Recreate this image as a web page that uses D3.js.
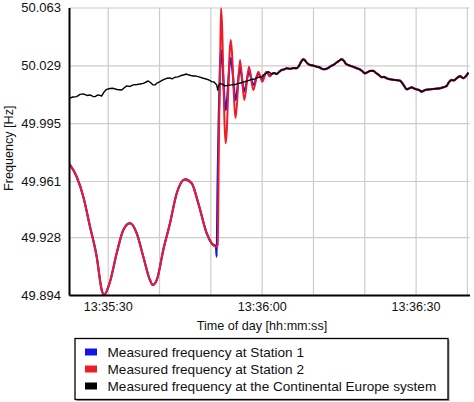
<!DOCTYPE html>
<html>
<head>
<meta charset="utf-8">
<script src="https://cdn.jsdelivr.net/npm/d3@7"></script>
<style>
  html, body { margin: 0; padding: 0; background: #fff; }
  svg { display: block; font-family: "Liberation Sans", Arial, sans-serif; }
</style>
</head>
<body>
<div id="chart"></div>
<script>
// seconds after 13:35:00, frequency in Hz
const stationsPre = [
  [22.46, 49.9714], [23.96, 49.9635], [25.25, 49.9518], [26.55, 49.9342], [27.86, 49.9165],
  [28.83, 49.8970], [29.28, 49.8940], [30.45, 49.9018], [31.75, 49.9185], [33.04, 49.9322],
  [34.35, 49.9362], [35.65, 49.9303], [36.94, 49.9165], [38.24, 49.9028], [38.77, 49.8999],
  [39.67, 49.9038], [40.83, 49.9205], [42.14, 49.9362], [43.45, 49.9538], [45.06, 49.9620],
  [46.37, 49.9597], [47.66, 49.9479], [49.29, 49.9303], [50.27, 49.9244], [51.10, 49.9224]
]
const station1Event = [
  [51.24, 49.9165], [51.40, 49.9550], [51.60, 49.9930], [51.88, 50.0280], [52.08, 50.0380],
  [52.99, 50.0028], [53.97, 50.0333], [54.94, 50.0086], [55.78, 50.0274], [56.62, 50.0135],
  [57.53, 50.0253], [58.37, 50.0175], [59.35, 50.0239], [60.13, 50.0210], [60.94, 50.0251],
  [61.63, 50.0226]
]
const station2Event = [
  [51.44, 49.9234], [51.69, 49.9892], [51.95, 50.0380], [52.08, 50.0625],
  [52.99, 49.9832], [53.97, 50.0439], [54.94, 49.9981], [55.78, 50.0321], [56.62, 50.0086],
  [57.53, 50.0282], [58.37, 50.0145], [59.35, 50.0253], [60.13, 50.0194], [60.94, 50.0251],
  [61.63, 50.0226]
]
const systemPre = [
  [22.46, 50.0096], [23.24, 50.0104], [23.96, 50.0106], [24.60, 50.0119], [25.25, 50.0122],
  [25.97, 50.0113], [26.55, 50.0116], [27.14, 50.0107], [27.53, 50.0106], [28.11, 50.0116],
  [28.83, 50.0110], [29.28, 50.0133], [29.81, 50.0149], [30.45, 50.0154], [31.09, 50.0155],
  [31.81, 50.0148], [32.73, 50.0145], [33.18, 50.0157], [33.70, 50.0169], [34.35, 50.0166],
  [34.99, 50.0175], [35.71, 50.0177], [36.29, 50.0180], [36.94, 50.0184], [37.46, 50.0192],
  [37.91, 50.0198], [38.44, 50.0186], [38.83, 50.0175], [39.22, 50.0175], [39.61, 50.0186],
  [40.19, 50.0194], [40.78, 50.0204], [41.50, 50.0214], [42.14, 50.0216], [42.53, 50.0210],
  [43.11, 50.0220], [43.70, 50.0222], [44.28, 50.0230], [44.73, 50.0233], [45.39, 50.0239],
  [45.84, 50.0233], [46.23, 50.0230], [46.68, 50.0227], [47.21, 50.0227], [47.79, 50.0222],
  [48.63, 50.0214], [49.16, 50.0210], [49.74, 50.0204], [50.27, 50.0194], [50.71, 50.0192],
  [51.24, 50.0175], [51.44, 50.0145], [51.69, 50.0175], [51.89, 50.0184], [52.28, 50.0180],
  [52.86, 50.0169], [53.44, 50.0172], [54.16, 50.0175], [54.81, 50.0177], [55.45, 50.0184],
  [56.11, 50.0188], [56.75, 50.0194], [57.40, 50.0200], [58.06, 50.0208], [58.70, 50.0210],
  [59.34, 50.0220], [60.01, 50.0222], [60.32, 50.0233], [60.85, 50.0242], [61.30, 50.0253]
]
const commonTail = [
  [61.96, 50.0239], [62.41, 50.0245], [62.93, 50.0239], [63.38, 50.0251], [63.90, 50.0263],
  [64.35, 50.0266], [64.88, 50.0273], [65.52, 50.0269], [66.10, 50.0274], [66.83, 50.0273],
  [67.27, 50.0286], [67.66, 50.0310], [68.11, 50.0326], [68.44, 50.0319], [68.83, 50.0304],
  [69.42, 50.0292], [70.00, 50.0289], [70.72, 50.0282], [71.37, 50.0277], [71.76, 50.0269],
  [72.34, 50.0267], [72.93, 50.0274], [73.51, 50.0286], [73.96, 50.0292], [74.49, 50.0304],
  [75.07, 50.0316], [75.60, 50.0326], [76.04, 50.0316], [76.43, 50.0298], [76.88, 50.0292],
  [77.41, 50.0286], [77.99, 50.0280], [78.52, 50.0273], [78.97, 50.0269], [79.55, 50.0257],
  [80.14, 50.0243], [80.72, 50.0251], [81.11, 50.0257], [81.76, 50.0258], [82.28, 50.0245],
  [82.86, 50.0233], [83.39, 50.0220], [83.84, 50.0222], [84.42, 50.0213], [85.01, 50.0208],
  [85.98, 50.0204], [86.96, 50.0200], [87.54, 50.0180], [88.26, 50.0149], [88.71, 50.0154],
  [89.24, 50.0161], [89.69, 50.0154], [90.21, 50.0149], [90.66, 50.0145], [91.19, 50.0135],
  [91.83, 50.0145], [92.81, 50.0149], [93.78, 50.0152], [94.76, 50.0155], [95.40, 50.0161],
  [96.06, 50.0169], [96.51, 50.0192], [97.04, 50.0204], [97.49, 50.0201], [98.07, 50.0216],
  [98.66, 50.0227], [99.30, 50.0214], [99.83, 50.0227], [100.28, 50.0247]
]

const yTicks = [49.894, 49.928, 49.961, 49.995, 50.029, 50.063]
const xLabelSeconds = [30, 60, 90]
const xGridSeconds = [30, 40, 50, 60, 70, 80, 90, 100]
const xDomainSeconds = [22.46, 100.5]
const legendLabels = [
  "Measured frequency at Station 1",
  "Measured frequency at Station 2",
  "Measured frequency at the Continental Europe system"
]
const colors = ["#1414e6", "#ec1c28", "#000000"]

const W = 474, H = 402
const plotL = 69, plotR = 469.5, plotT = 7.5, plotB = 295

const base = new Date(2020, 0, 1, 13, 35, 0)
const toDate = s => new Date(base.getTime() + s * 1000)

const svg = d3.select("#chart").append("svg")
  .attr("width", W).attr("height", H)

const x = d3.scaleTime().domain(xDomainSeconds.map(toDate)).range([plotL, plotR])
const y = d3.scaleLinear().domain([yTicks[0], yTicks[yTicks.length - 1]]).range([plotB, plotT])

//grid
svg.append("g")
  .attr("transform", `translate(0,${plotB})`)
  .call(d3.axisBottom(x).tickValues(xGridSeconds.map(toDate)).tickSize(-(plotB - plotT)).tickFormat(""))
  .call(g => g.select(".domain").remove())
  .call(g => g.selectAll("line").attr("stroke", "#cccccc").attr("stroke-width", 1.2))

svg.append("g")
  .attr("transform", `translate(${plotL},0)`)
  .call(d3.axisLeft(y).tickValues(yTicks.slice(1)).tickSize(-(plotR - plotL)).tickFormat(""))
  .call(g => g.select(".domain").remove())
  .call(g => g.selectAll("line").attr("stroke", "#cccccc").attr("stroke-width", 1.2))

svg.append("clipPath").attr("id", "plot-clip")
  .append("rect").attr("x", plotL).attr("y", plotT - 1).attr("width", plotR - plotL).attr("height", plotB - plotT + 1)

const station1 = stationsPre.concat(station1Event, commonTail)
const station2 = stationsPre.concat(station2Event, commonTail)
const system = systemPre.concat(commonTail)

const smooth = d3.line().x(d => x(toDate(d[0]))).y(d => y(d[1])).curve(d3.curveMonotoneX)
const jagged = d3.line().x(d => x(toDate(d[0]))).y(d => y(d[1]))

const plot = svg.append("g").attr("clip-path", "url(#plot-clip)")

plot.append("path").datum(station1)
  .attr("fill", "none").attr("stroke", colors[0]).attr("stroke-width", 2.2)
  .attr("stroke-linejoin", "round").attr("d", smooth)
plot.append("path").datum(station2)
  .attr("fill", "none").attr("stroke", colors[1]).attr("stroke-width", 2)
  .attr("stroke-linejoin", "round").attr("d", smooth)
plot.append("path").datum(system)
  .attr("fill", "none").attr("stroke", colors[2]).attr("stroke-width", 1.4)
  .attr("stroke-linejoin", "round").attr("d", jagged)

//axes
svg.append("g")
  .attr("transform", `translate(0,${plotB})`)
  .call(d3.axisBottom(x).tickValues(xLabelSeconds.map(toDate))
    .tickFormat(d3.timeFormat("%H:%M:%S")).tickSize(0).tickSizeOuter(0).tickPadding(7))
  .call(g => g.select(".domain").attr("stroke", "#000").attr("stroke-width", 2))
  .call(g => g.selectAll("text").attr("font-size", 12.6).attr("fill", "#111"))

svg.append("g")
  .attr("transform", `translate(${plotL},0)`)
  .call(d3.axisLeft(y).tickValues(yTicks).tickFormat(d3.format(".3f"))
    .tickSize(0).tickSizeOuter(0).tickPadding(8))
  .call(g => g.select(".domain").attr("stroke", "#000").attr("stroke-width", 2))
  .call(g => g.selectAll("text").attr("font-size", 13).attr("fill", "#111"))

svg.append("text")
  .attr("x", 262).attr("y", 330)
  .attr("text-anchor", "middle").attr("font-size", 12.6).attr("fill", "#111")
  .text("Time of day [hh:mm:ss]")

svg.append("text")
  .attr("transform", `translate(12.5,${(plotT + plotB) / 2 - 3}) rotate(-90)`)
  .attr("text-anchor", "middle").attr("font-size", 12.6).attr("fill", "#111")
  .text("Frequency [Hz]")

//legend
const legend = svg.append("g").attr("transform", "translate(75,338.5)")
legend.append("rect")
  .attr("x", 1.5).attr("y", 1.5).attr("width", 373).attr("height", 61)
  .attr("fill", "#9a9a9a")
legend.append("rect")
  .attr("width", 373).attr("height", 61)
  .attr("fill", "#fff").attr("stroke", "#000").attr("stroke-width", 1.3)

const rows = legend.selectAll("g.row")
  .data(legendLabels).enter()
  .append("g").classed("row", true)
  .attr("transform", (d, i) => `translate(0,${13.5 + i * 17})`)

rows.append("rect")
  .attr("x", 10).attr("y", -3.5).attr("width", 12).attr("height", 7)
  .attr("fill", (d, i) => colors[i])

rows.append("text")
  .attr("x", 32.5).attr("dy", "0.35em")
  .attr("font-size", 13.6).attr("fill", "#111")
  .text(d => d)
</script>
</body>
</html>
